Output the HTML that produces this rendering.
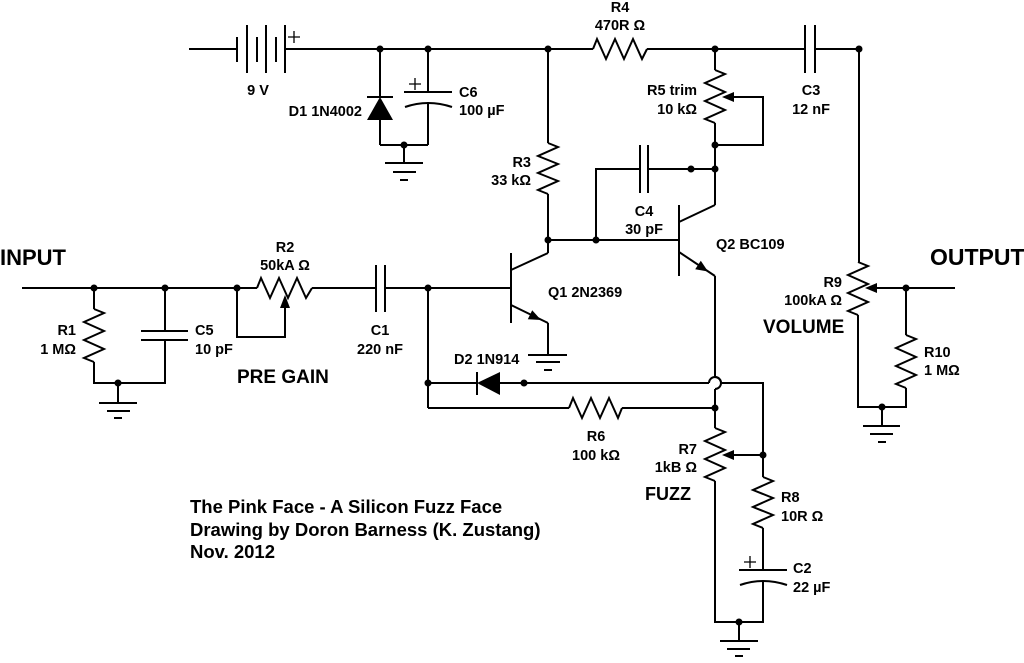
<!DOCTYPE html>
<html><head><meta charset="utf-8"><style>
html,body{margin:0;padding:0;background:#fff;}
svg text{font-family:"Liberation Sans",sans-serif;font-weight:bold;font-size:14.5px;fill:#000;}
</style></head><body>
<svg width="1024" height="658" viewBox="0 0 1024 658" xmlns="http://www.w3.org/2000/svg">
<g stroke="#000" stroke-width="2" fill="none">
<line x1="189" y1="49" x2="237" y2="49"/>
<line x1="237" y1="37" x2="237" y2="62"/><line x1="247" y1="25" x2="247" y2="73"/>
<line x1="257" y1="37" x2="257" y2="62"/><line x1="266" y1="25" x2="266" y2="73"/>
<line x1="276" y1="37" x2="276" y2="62"/><line x1="285" y1="25" x2="285" y2="73"/>
<line x1="285" y1="49" x2="593" y2="49"/>
<polyline points="593,49 597,39 606,59 615,39 624,59 633,39 642,59 647,49"/>
<line x1="647" y1="49" x2="805" y2="49"/>
<line x1="805" y1="25" x2="805" y2="73"/><line x1="815" y1="25" x2="815" y2="73"/>
<line x1="815" y1="49" x2="859" y2="49"/>
<line x1="380" y1="49" x2="380" y2="97"/>
<line x1="367" y1="97" x2="393" y2="97"/>
<line x1="380" y1="120" x2="380" y2="145"/>
<line x1="380" y1="145" x2="428" y2="145"/>
<line x1="428" y1="49" x2="428" y2="92"/>
<line x1="404" y1="92" x2="452" y2="92"/>
<path d="M405,107 Q428,99 452,107"/>
<line x1="428" y1="102" x2="428" y2="145"/>
<line x1="404" y1="145" x2="404" y2="163"/>
<line x1="385" y1="163" x2="423" y2="163"/><line x1="393" y1="172" x2="416" y2="172"/><line x1="400" y1="180" x2="408" y2="180"/>
<line x1="548" y1="49" x2="548" y2="143"/>
<polyline points="548,143 558,147 538,156 558,164 538,173 558,181 538,190 548,194"/>
<line x1="548" y1="194" x2="548" y2="253"/>
<line x1="548" y1="240" x2="679" y2="240"/>
<line x1="715" y1="49" x2="715" y2="70"/>
<polyline points="715,70 725,74 705,83 725,92 705,101 725,110 705,119 715,123"/>
<line x1="715" y1="123" x2="715" y2="205"/>
<polyline points="730,97 763,97 763,145 715,145"/>
<polyline points="596,240 596,169 640,169"/>
<line x1="640" y1="145" x2="640" y2="193"/><line x1="648" y1="145" x2="648" y2="193"/>
<line x1="648" y1="169" x2="715" y2="169"/>
<line x1="679" y1="205" x2="679" y2="276"/>
<line x1="679" y1="222" x2="715" y2="205"/>
<line x1="679" y1="252" x2="715" y2="276"/>
<line x1="715" y1="276" x2="715" y2="377"/>
<path d="M715,377 A6,6 0 0 1 715,389"/>
<line x1="715" y1="389" x2="715" y2="428"/>
<line x1="511" y1="253" x2="511" y2="323"/>
<line x1="511" y1="270" x2="548" y2="253"/>
<line x1="511" y1="305" x2="548" y2="323"/>
<line x1="548" y1="323" x2="548" y2="355"/>
<line x1="528" y1="355" x2="567" y2="355"/><line x1="536" y1="362" x2="560" y2="362"/><line x1="544" y1="370" x2="552" y2="370"/>
<line x1="22" y1="288" x2="257" y2="288"/>
<polyline points="257,288 261,278 270,298 279,278 288,298 297,278 306,298 312,288"/>
<line x1="312" y1="288" x2="376" y2="288"/>
<line x1="376" y1="265" x2="376" y2="312"/><line x1="385" y1="265" x2="385" y2="312"/>
<line x1="385" y1="288" x2="511" y2="288"/>
<polyline points="285,306 285,337 237,337 237,288"/>
<line x1="94" y1="288" x2="94" y2="309"/>
<polyline points="94,309 104,313 84,322 104,331 84,340 104,349 84,358 94,362"/>
<polyline points="94,362 94,383 165,383 165,340"/>
<line x1="165" y1="288" x2="165" y2="331"/>
<line x1="141" y1="331" x2="188" y2="331"/><line x1="141" y1="340" x2="188" y2="340"/>
<line x1="118" y1="383" x2="118" y2="403"/>
<line x1="99" y1="403" x2="137" y2="403"/><line x1="107" y1="411" x2="130" y2="411"/><line x1="114" y1="418" x2="122" y2="418"/>
<line x1="428" y1="288" x2="428" y2="408"/>
<line x1="428" y1="383" x2="477" y2="383"/>
<line x1="477" y1="372" x2="477" y2="395"/>
<line x1="500" y1="383" x2="709" y2="383"/>
<path d="M709,383 A6,6 0 0 1 721,383"/>
<polyline points="721,383 763,383 763,477"/>
<line x1="428" y1="408" x2="569" y2="408"/>
<polyline points="569,408 573,398 582,418 591,398 600,418 609,398 618,418 622,408"/>
<line x1="622" y1="408" x2="715" y2="408"/>
<polyline points="715,428 725,432 705,441 725,450 705,459 725,468 705,477 715,481"/>
<polyline points="715,481 715,622 763,622 763,582"/>
<line x1="730" y1="455" x2="763" y2="455"/>
<polyline points="763,477 773,481 753,490 773,498 753,507 773,515 753,524 763,528"/>
<line x1="763" y1="528" x2="763" y2="570"/>
<line x1="739" y1="570" x2="787" y2="570"/>
<path d="M740,585 Q763,577 787,585"/>
<line x1="739" y1="622" x2="739" y2="641"/>
<line x1="720" y1="641" x2="758" y2="641"/><line x1="727" y1="649" x2="750" y2="649"/><line x1="735" y1="656" x2="743" y2="656"/>
<line x1="859" y1="49" x2="859" y2="262"/>
<polyline points="858,262 868,266 848,275 868,284 848,293 868,302 848,311 858,315"/>
<polyline points="858,315 858,407 906,407 906,388"/>
<line x1="873" y1="288" x2="955" y2="288"/>
<line x1="906" y1="288" x2="906" y2="335"/>
<polyline points="906,335 916,339 896,348 916,357 896,366 916,375 896,384 906,388"/>
<line x1="882" y1="407" x2="882" y2="426"/>
<line x1="863" y1="426" x2="900" y2="426"/><line x1="870" y1="434" x2="893" y2="434"/><line x1="878" y1="442" x2="886" y2="442"/>
<path d="M288,37 h12 M294,31 v12" stroke-width="1.3"/>
<path d="M409,84 h12 M415,78 v12" stroke-width="1.3"/>
<path d="M744,562 h12 M750,556 v12" stroke-width="1.3"/>
</g>
<g fill="#000">
<polygon points="380,97 367,120 393,120"/>
<polygon points="477,383 500,372 500,395"/>
<polygon points="722,97 734,92 734,102"/>
<polygon points="722,455 734,450 734,460"/>
<polygon points="865,288 877,283 877,293"/>
<polygon points="285,295 280,308 290,308"/>
<polygon points="541,320 527.8,319.2 532.2,310.2"/>
<polygon points="708,271.5 695.2,269.2 700.8,260.8"/>
<circle cx="380" cy="49" r="3.5"/><circle cx="428" cy="49" r="3.5"/><circle cx="548" cy="49" r="3.5"/>
<circle cx="715" cy="49" r="3.5"/><circle cx="859" cy="49" r="3.5"/><circle cx="404" cy="145" r="3.5"/>
<circle cx="715" cy="145" r="3.5"/><circle cx="691" cy="169" r="3.5"/><circle cx="715" cy="169" r="3.5"/>
<circle cx="548" cy="240" r="3.5"/><circle cx="596" cy="240" r="3.5"/>
<circle cx="94" cy="288" r="3.5"/><circle cx="165" cy="288" r="3.5"/><circle cx="237" cy="288" r="3.5"/>
<circle cx="428" cy="288" r="3.5"/><circle cx="118" cy="383" r="3.5"/><circle cx="428" cy="383" r="3.5"/>
<circle cx="524" cy="383" r="3.5"/><circle cx="715" cy="408" r="3.5"/><circle cx="763" cy="455" r="3.5"/>
<circle cx="739" cy="622" r="3.5"/><circle cx="906" cy="288" r="3.5"/><circle cx="882" cy="407" r="3.5"/>
</g>
<text x="258" y="95" text-anchor="middle">9 V</text>
<text x="362" y="116" text-anchor="end">D1 1N4002</text>
<text x="459" y="97">C6</text><text x="459" y="115">100 µF</text>
<text x="531" y="167" text-anchor="end">R3</text><text x="531" y="185" text-anchor="end">33 kΩ</text>
<text x="620" y="12" text-anchor="middle">R4</text><text x="620" y="30" text-anchor="middle">470R Ω</text>
<text x="697" y="95" text-anchor="end">R5 trim</text><text x="697" y="114" text-anchor="end">10 kΩ</text>
<text x="811" y="95" text-anchor="middle">C3</text><text x="811" y="114" text-anchor="middle">12 nF</text>
<text x="644" y="216" text-anchor="middle">C4</text><text x="644" y="234" text-anchor="middle">30 pF</text>
<text x="716" y="249">Q2 BC109</text>
<text x="548" y="297">Q1 2N2369</text>
<text x="454" y="364">D2 1N914</text>
<text x="596" y="441" text-anchor="middle">R6</text><text x="596" y="460" text-anchor="middle">100 kΩ</text>
<text x="697" y="454" text-anchor="end">R7</text><text x="697" y="472" text-anchor="end">1kB Ω</text>
<text x="645" y="500" style="font-size:18px">FUZZ</text>
<text x="781" y="502">R8</text><text x="781" y="521">10R Ω</text>
<text x="793" y="573">C2</text><text x="793" y="592">22 µF</text>
<text x="842" y="287" text-anchor="end">R9</text><text x="842" y="305" text-anchor="end">100kA Ω</text>
<text x="763" y="333" style="font-size:19px">VOLUME</text>
<text x="924" y="357">R10</text><text x="924" y="375">1 MΩ</text>
<text x="930" y="265" style="font-size:23px">OUTPUT</text>
<text x="0" y="265" style="font-size:22px">INPUT</text>
<text x="285" y="252" text-anchor="middle">R2</text><text x="285" y="270" text-anchor="middle">50kA Ω</text>
<text x="380" y="335" text-anchor="middle">C1</text><text x="380" y="354" text-anchor="middle">220 nF</text>
<text x="237" y="383" style="font-size:19px">PRE GAIN</text>
<text x="76" y="335" text-anchor="end">R1</text><text x="76" y="354" text-anchor="end">1 MΩ</text>
<text x="195" y="335">C5</text><text x="195" y="354">10 pF</text>
<text x="190" y="513" style="font-size:18.5px">The Pink Face - A Silicon Fuzz Face</text>
<text x="190" y="536" style="font-size:18.5px">Drawing by Doron Barness (K. Zustang)</text>
<text x="190" y="558" style="font-size:18.5px">Nov. 2012</text>
</svg>
</body></html>
